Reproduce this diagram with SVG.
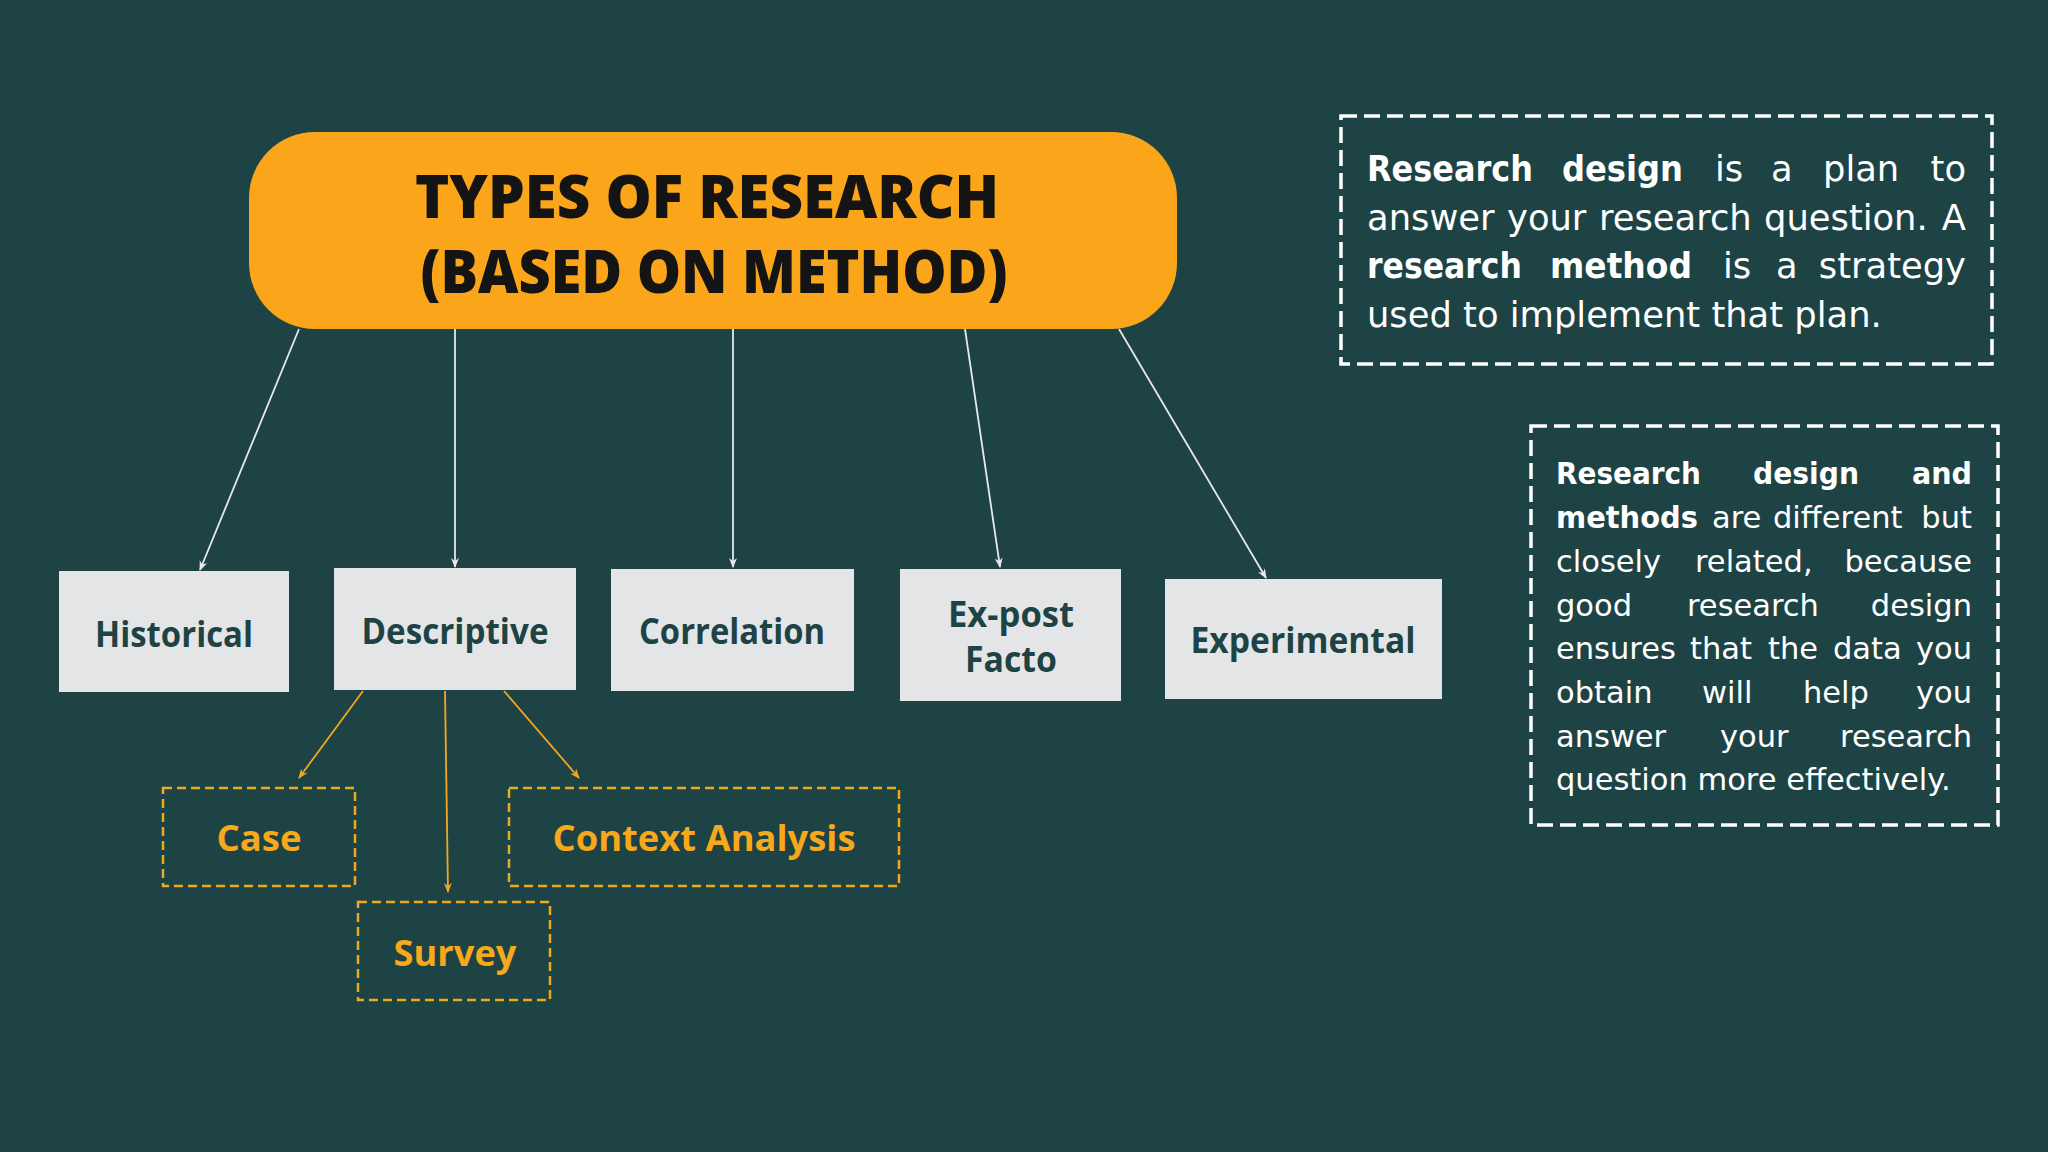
<svg xmlns="http://www.w3.org/2000/svg" width="2048" height="1152" viewBox="0 0 2048 1152">
  <defs>
    <style>
      .bg { fill: #1D4345; }
      .title { font-family: "Open Sans", "Liberation Sans", sans-serif; font-weight: 800; font-size: 61px; fill: #141414; text-anchor: middle; }
      .node { fill: #E4E5E7; }
      .lbl { font-family: "Open Sans", "Liberation Sans", sans-serif; font-weight: 700; font-size: 35px; fill: #1D4345; text-anchor: middle; }
      .sub { fill: none; stroke: #F2A81E; stroke-width: 2.5; stroke-dasharray: 9 5; }
      .sublbl { font-family: "Open Sans", "Liberation Sans", sans-serif; font-weight: 700; font-size: 36px; fill: #F7A81B; text-anchor: middle; }
      .wline { stroke: #E8E8E8; stroke-width: 1.8; fill: none; }
      .oline { stroke: #F2A81E; stroke-width: 1.8; fill: none; }
      .note { fill: none; stroke: #FFFFFF; stroke-width: 3.5; stroke-dasharray: 16 7; }
      .t1 { font-family: "DejaVu Sans", "Liberation Sans", sans-serif; font-size: 35.3px; fill: #FFFFFF; }
      .t2 { font-family: "DejaVu Sans", "Liberation Sans", sans-serif; font-size: 30.5px; fill: #FFFFFF; }
      .b { font-weight: 700; }
      .e { text-anchor: end; }
    </style>
    <marker id="aw" viewBox="0 0 10 10" refX="9" refY="5" markerWidth="10" markerHeight="10" markerUnits="userSpaceOnUse" orient="auto">
      <path d="M0,1 L10,5 L0,9 L3,5 z" fill="#E8E8E8"/>
    </marker>
    <marker id="ao" viewBox="0 0 10 10" refX="9" refY="5" markerWidth="10" markerHeight="10" markerUnits="userSpaceOnUse" orient="auto">
      <path d="M0,1 L10,5 L0,9 L3,5 z" fill="#F2A81E"/>
    </marker>
  </defs>

  <rect class="bg" x="0" y="0" width="2048" height="1152"/>

  <g id="connectors">
    <line class="wline" x1="299" y1="329" x2="200" y2="570" marker-end="url(#aw)"/>
    <line class="wline" x1="455" y1="329" x2="455" y2="567" marker-end="url(#aw)"/>
    <line class="wline" x1="733" y1="329" x2="733" y2="567" marker-end="url(#aw)"/>
    <line class="wline" x1="965" y1="329" x2="1000" y2="567" marker-end="url(#aw)"/>
    <line class="wline" x1="1119" y1="329" x2="1266" y2="578" marker-end="url(#aw)"/>
    <line class="oline" x1="363" y1="691" x2="299" y2="778" marker-end="url(#ao)"/>
    <line class="oline" x1="445" y1="691" x2="448" y2="892" marker-end="url(#ao)"/>
    <line class="oline" x1="504" y1="691" x2="579" y2="778" marker-end="url(#ao)"/>
  </g>

  <g id="title">
    <rect x="249" y="132" width="928" height="197" rx="66" ry="66" fill="#FBA61A"/>
    <text class="title" x="707" y="218" textLength="584" lengthAdjust="spacingAndGlyphs">TYPES OF RESEARCH</text>
    <text class="title" x="714" y="293" textLength="587" lengthAdjust="spacingAndGlyphs">(BASED ON METHOD)</text>
  </g>

  <g id="historical">
    <rect class="node" x="59" y="571" width="230" height="121"/>
    <text class="lbl" x="174" y="647" textLength="158" lengthAdjust="spacingAndGlyphs">Historical</text>
  </g>
  <g id="descriptive">
    <rect class="node" x="334" y="568" width="242" height="122"/>
    <text class="lbl" x="455" y="644" textLength="187" lengthAdjust="spacingAndGlyphs">Descriptive</text>
  </g>
  <g id="correlation">
    <rect class="node" x="611" y="569" width="243" height="122"/>
    <text class="lbl" x="732" y="644" textLength="186" lengthAdjust="spacingAndGlyphs">Correlation</text>
  </g>
  <g id="expost">
    <rect class="node" x="900" y="569" width="221" height="132"/>
    <text class="lbl" x="1011" y="627" textLength="126" lengthAdjust="spacingAndGlyphs">Ex-post</text>
    <text class="lbl" x="1011" y="672" textLength="92" lengthAdjust="spacingAndGlyphs">Facto</text>
  </g>
  <g id="experimental">
    <rect class="node" x="1165" y="579" width="277" height="120"/>
    <text class="lbl" x="1303" y="653" textLength="225" lengthAdjust="spacingAndGlyphs">Experimental</text>
  </g>

  <g id="case">
    <rect class="sub" x="163" y="788" width="192" height="98"/>
    <text class="sublbl" x="259" y="851" textLength="85" lengthAdjust="spacingAndGlyphs">Case</text>
  </g>
  <g id="context">
    <rect class="sub" x="509" y="788" width="390" height="98"/>
    <text class="sublbl" x="704" y="851" textLength="303" lengthAdjust="spacingAndGlyphs">Context Analysis</text>
  </g>
  <g id="survey">
    <rect class="sub" x="358" y="902" width="192" height="98"/>
    <text class="sublbl" x="455" y="966" textLength="123" lengthAdjust="spacingAndGlyphs">Survey</text>
  </g>

  <g id="note1">
    <rect class="note" x="1341" y="116" width="651" height="248"/>
    <text class="t1 b" x="1367" y="181" textLength="166" lengthAdjust="spacingAndGlyphs">Research</text>
    <text class="t1 b" x="1562" y="181" textLength="121" lengthAdjust="spacingAndGlyphs">design</text>
    <text class="t1" x="1715" y="181">is</text>
    <text class="t1" x="1771" y="181">a</text>
    <text class="t1" x="1823" y="181">plan</text>
    <text class="t1 e" x="1966" y="181">to</text>
    <text class="t1" x="1367" y="230">answer</text>
    <text class="t1" x="1507" y="230">your</text>
    <text class="t1" x="1599" y="230">research</text>
    <text class="t1" x="1764" y="230">question.</text>
    <text class="t1 e" x="1966" y="230">A</text>
    <text class="t1 b" x="1367" y="278" textLength="155" lengthAdjust="spacingAndGlyphs">research</text>
    <text class="t1 b" x="1550" y="278" textLength="142" lengthAdjust="spacingAndGlyphs">method</text>
    <text class="t1" x="1723" y="278">is</text>
    <text class="t1" x="1776" y="278">a</text>
    <text class="t1 e" x="1966" y="278">strategy</text>
    <text class="t1" x="1367" y="327">used to implement that plan.</text>
  </g>

  <g id="note2">
    <rect class="note" x="1531" y="426" width="467" height="399"/>
    <text class="t2 b" x="1556" y="484" textLength="145" lengthAdjust="spacingAndGlyphs">Research</text>
    <text class="t2 b" x="1753" y="484" textLength="106" lengthAdjust="spacingAndGlyphs">design</text>
    <text class="t2 b e" x="1972" y="484" textLength="60" lengthAdjust="spacingAndGlyphs">and</text>
    <text class="t2 b" x="1556" y="528" textLength="142" lengthAdjust="spacingAndGlyphs">methods</text>
    <text class="t2" x="1712" y="528">are</text>
    <text class="t2" x="1773" y="528">different</text>
    <text class="t2 e" x="1972" y="528">but</text>
    <text class="t2" x="1556" y="572">closely</text>
    <text class="t2" x="1695" y="572">related,</text>
    <text class="t2 e" x="1972" y="572">because</text>
    <text class="t2" x="1556" y="616">good</text>
    <text class="t2" x="1687" y="616">research</text>
    <text class="t2 e" x="1972" y="616">design</text>
    <text class="t2" x="1556" y="659">ensures</text>
    <text class="t2" x="1690" y="659">that</text>
    <text class="t2" x="1768" y="659">the</text>
    <text class="t2" x="1833" y="659">data</text>
    <text class="t2 e" x="1972" y="659">you</text>
    <text class="t2" x="1556" y="703">obtain</text>
    <text class="t2" x="1702" y="703">will</text>
    <text class="t2" x="1803" y="703">help</text>
    <text class="t2 e" x="1972" y="703">you</text>
    <text class="t2" x="1556" y="747">answer</text>
    <text class="t2" x="1720" y="747">your</text>
    <text class="t2 e" x="1972" y="747">research</text>
    <text class="t2" x="1556" y="790">question more effectively.</text>
  </g>
</svg>
